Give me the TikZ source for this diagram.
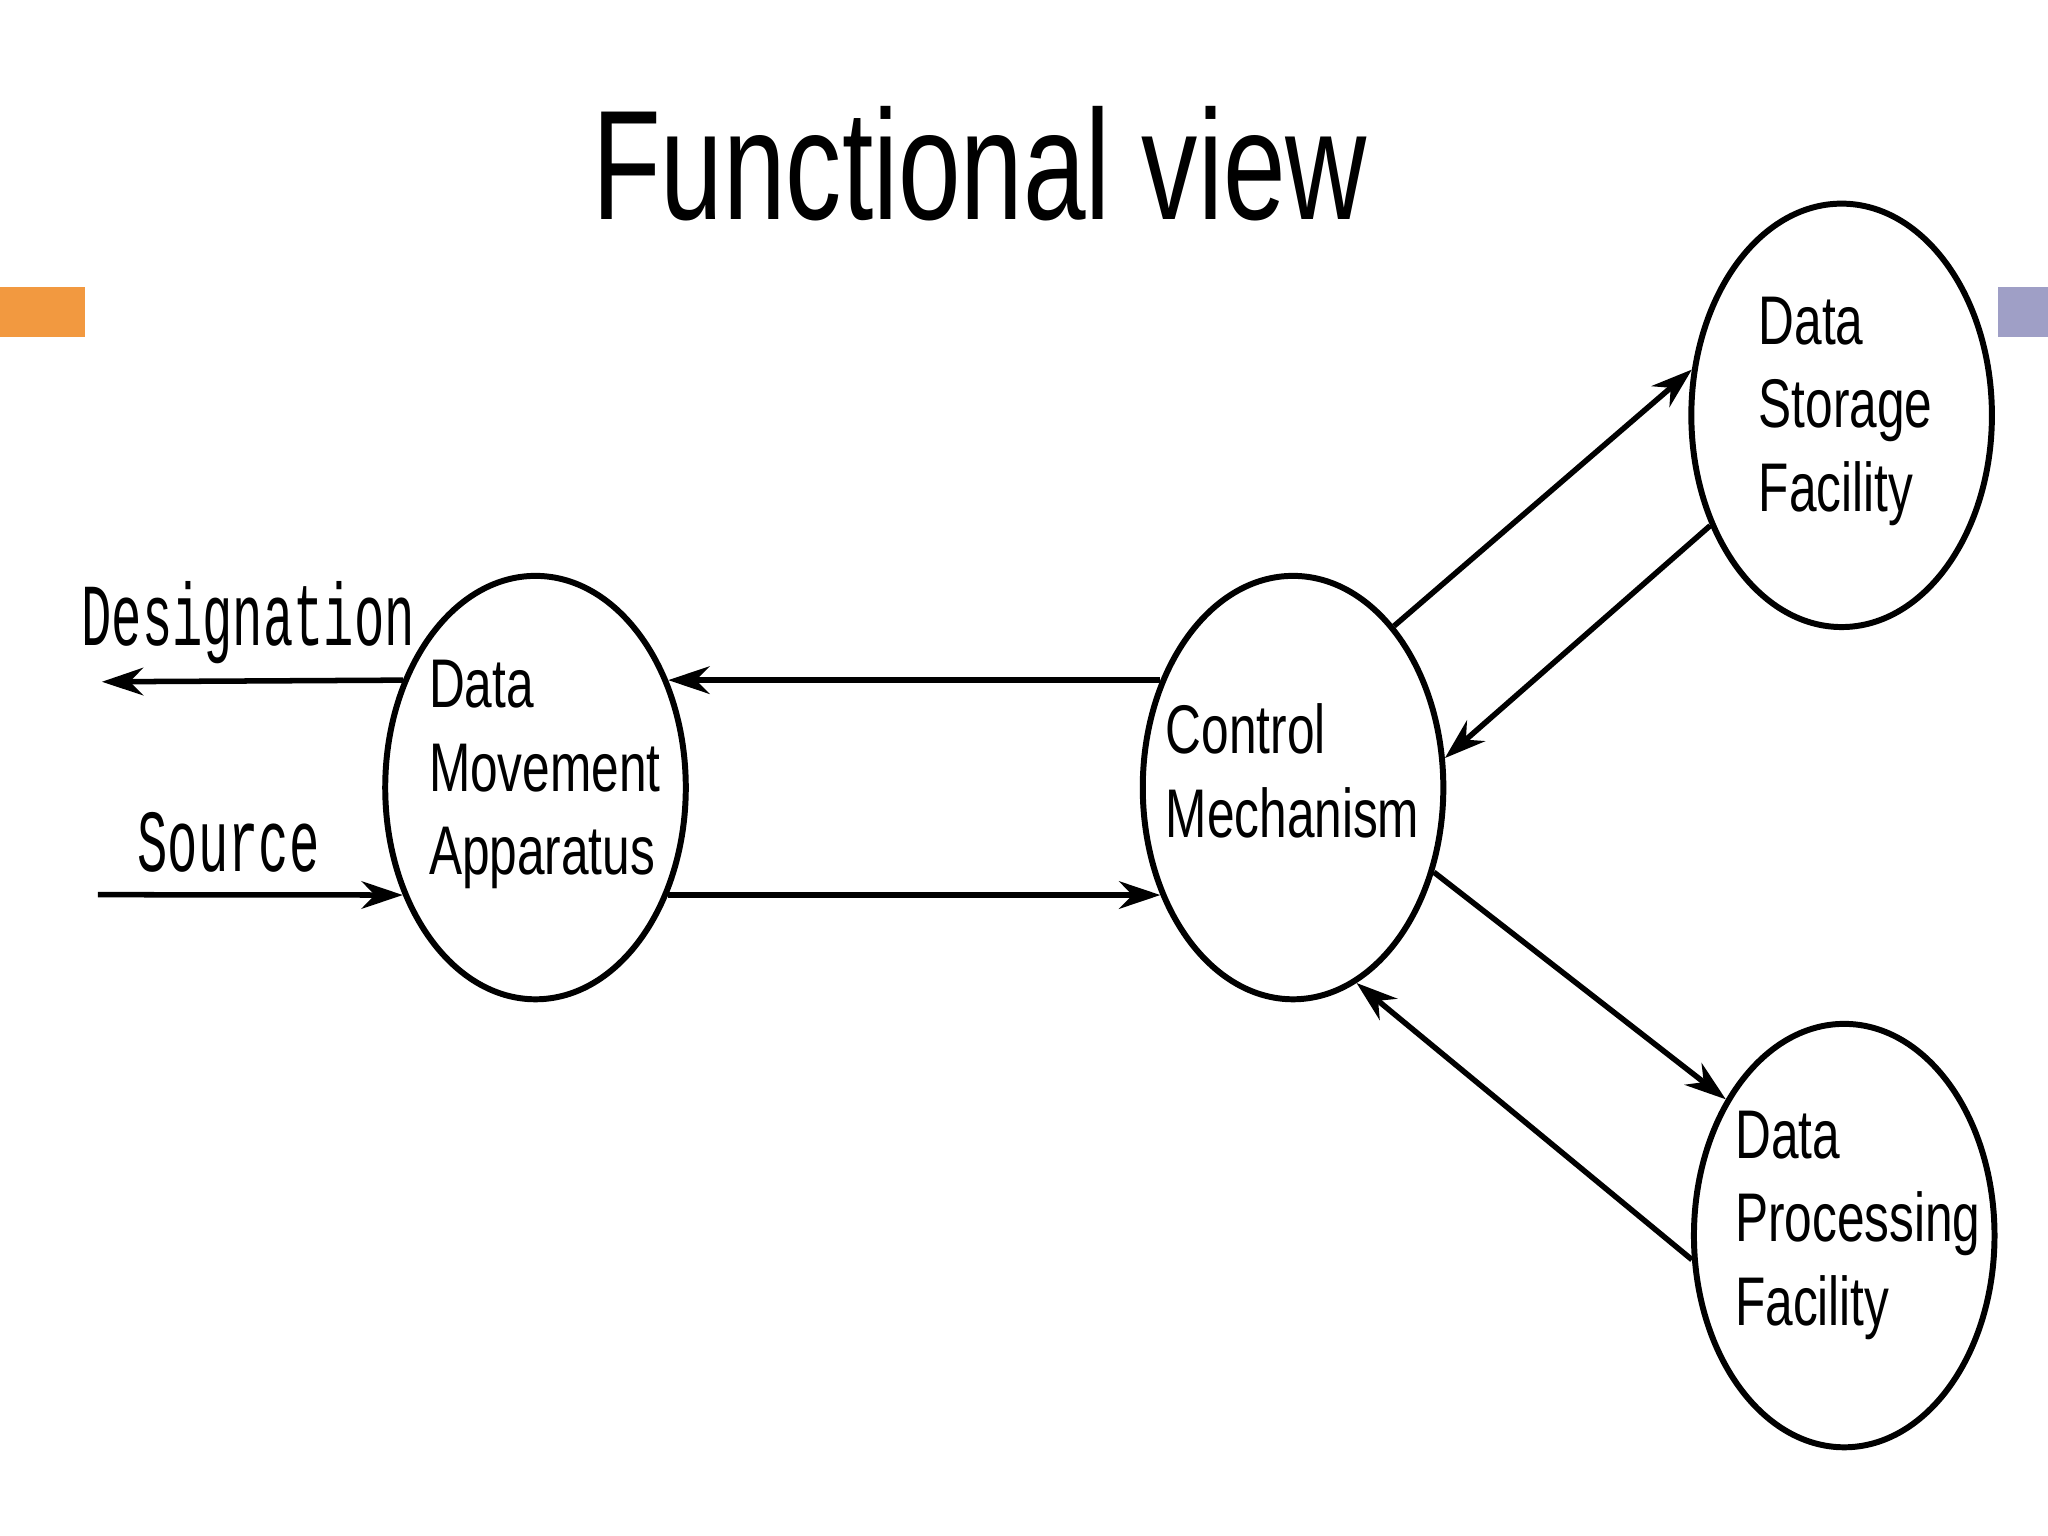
\documentclass[tikz,border=0pt]{standalone}
\usepackage{fontspec}
\setmainfont{Liberation Sans}
\newfontfamily\monof{Liberation Mono}
\usetikzlibrary{shapes.geometric,arrows.meta}
\begin{document}
\begin{tikzpicture}[x=0.01cm,y=-0.01cm,
  circ/.style={draw,ellipse,line width=1.3pt,inner sep=0pt,minimum width=230\pgflinewidth,minimum height=324\pgflinewidth},
  bub/.style={circle,draw=black,line width=1.3pt,inner sep=0pt,ellipse,minimum width=2.3cm,minimum height=3.24cm},
  lab/.style={font=\fontsize{15}{18.2}\selectfont,align=left,anchor=west,xscale=0.72,transform shape,inner sep=0pt},
  arr/.style={line width=1.2pt,-{Stealth[length=9pt,width=6pt]}},
  side/.style={font=\monof\fontsize{11}{11}\selectfont,yscale=1.75,transform shape,inner sep=0pt}]
\useasboundingbox (0,0) rectangle (1568,1176);
\fill[white] (0,0) rectangle (1568,1176);
\fill[orange!75!brown!80!white] (0,220) rectangle (65,258);
\fill[blue!25!gray!60!white] (1530,220) rectangle (1568,258);
\node[font=\fontsize{34}{34}\selectfont,xscale=0.72,transform shape] (title) at (750,125) {Functional view};
\node[bub] (dma) at (410,603) {};
\node[bub] (ctl) at (990,603) {};
\node[bub] (dsf) at (1410,318) {};
\node[bub] (dpf) at (1412,946) {};
\node[lab] (t1) at (328,593) {Data\\Movement\\Apparatus};
\node[lab] (t2) at (892,590) {Control\\Mechanism};
\node[lab] (t3) at (1346,315) {Data\\Storage\\Facility};
\node[lab] (t4) at (1328,938) {Data\\Processing\\Facility};
\coordinate (dst) at (78,522);
\coordinate (src) at (75,685);
\node[side] (ld) at (190,477) {Designation};
\node[side] (ls) at (175,645) {Source};
\draw[arr] (dma.141) -- (dst);
\draw[arr] (src) -- (dma.219);
\draw[arr] (ctl.141) -- (dma.39);
\draw[arr] (dma.-39) -- (ctl.219);
\draw[arr] (ctl.58.6) -- (dsf.163);
\draw[arr] (dsf.220.5) -- (ctl.11);
\draw[arr] (ctl.-31.3) -- (dpf.131.7);
\draw[arr] (dpf.189) -- (ctl.-72.4);
\end{tikzpicture}
\end{document}
